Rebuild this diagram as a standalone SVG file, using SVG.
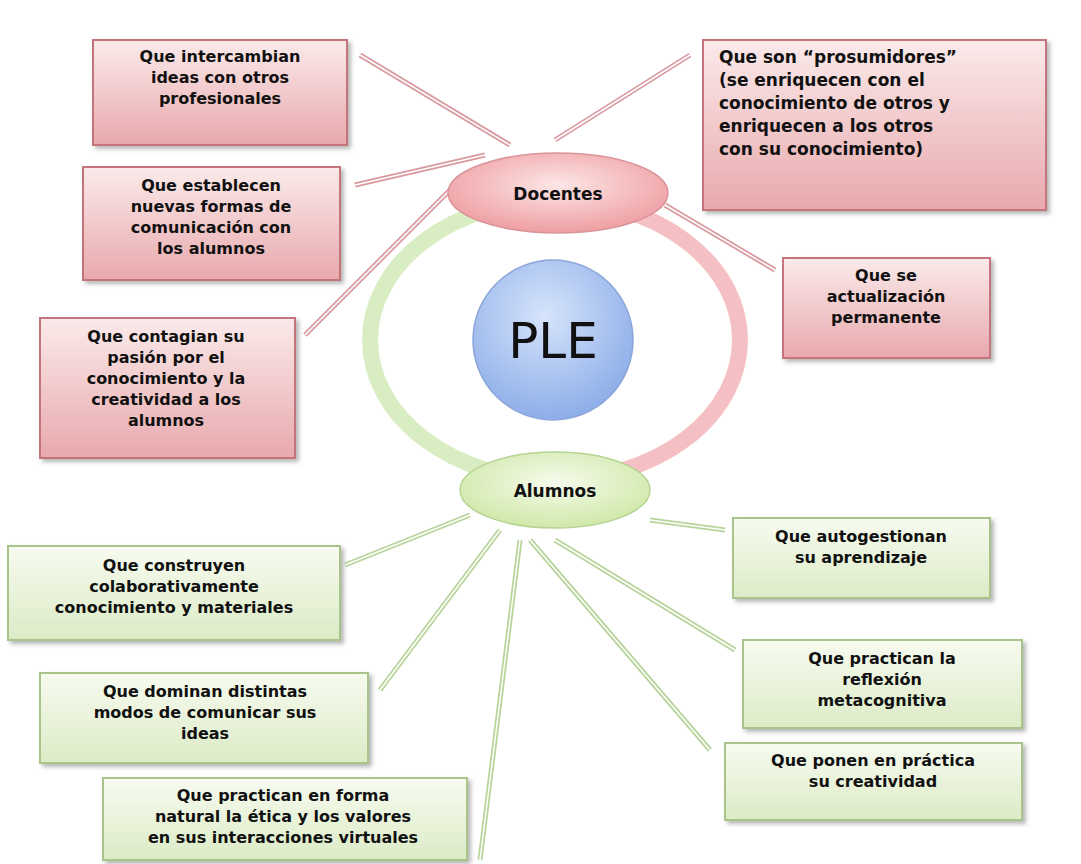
<svg xmlns="http://www.w3.org/2000/svg" width="1081" height="864" viewBox="0 0 1081 864">
<defs>
<linearGradient id="pk" x1="0" y1="0" x2="0" y2="1"><stop offset="0" stop-color="#fbeaea"/><stop offset="1" stop-color="#e8a9ad"/></linearGradient>
<linearGradient id="gr" x1="0" y1="0" x2="0" y2="1"><stop offset="0" stop-color="#f7fbf0"/><stop offset="1" stop-color="#dcebc6"/></linearGradient>
<radialGradient id="pe" cx="0.5" cy="0.4" r="0.6"><stop offset="0" stop-color="#fde6e6"/><stop offset="1" stop-color="#ee9ea2"/></radialGradient>
<radialGradient id="ge" cx="0.5" cy="0.4" r="0.6"><stop offset="0" stop-color="#f6fbec"/><stop offset="1" stop-color="#cfe8a8"/></radialGradient>
<radialGradient id="be" cx="0.45" cy="0.35" r="0.65"><stop offset="0" stop-color="#d6e4fb"/><stop offset="1" stop-color="#8eaee8"/></radialGradient>
<filter id="sh"><feDropShadow dx="3" dy="3" stdDeviation="2" flood-color="#888" flood-opacity="0.6"/></filter>
</defs>
<style>
.p{fill:url(#pk);stroke:#c4747c;stroke-width:2;filter:url(#sh)}
.g{fill:url(#gr);stroke:#a8c48a;stroke-width:2;filter:url(#sh)}
.t{font-family:"DejaVu Sans",sans-serif;font-weight:bold;font-size:16px;fill:#111;text-anchor:middle}
.tl{font-family:"DejaVu Sans",sans-serif;font-weight:bold;font-size:17px;fill:#111}
.cp{stroke:#d99aa0;stroke-width:5;fill:none}
.cpi{stroke:#fff;stroke-width:1.5;fill:none}
.cg{stroke:#b8d49a;stroke-width:5;fill:none}
.cgi{stroke:#fff;stroke-width:1.5;fill:none}
</style>
<rect width="1081" height="864" fill="#fff"/>
<g id="ring">
<path d="M555 200 A185 140 0 0 0 555 480" stroke="#d9edc2" stroke-width="16" fill="none"/>
<path d="M555 200 A185 140 0 0 1 555 480" stroke="#f5c0c4" stroke-width="16" fill="none"/>
</g>
<g id="connectors">
<path class="cp" d="M360 55 L510 145 M690 55 L555 140 M355 185 L485 155 M305 335 L450 190 M665 205 L775 270"/>
<path class="cpi" d="M360 55 L510 145 M690 55 L555 140 M355 185 L485 155 M305 335 L450 190 M665 205 L775 270"/>
<path class="cg" d="M470 515 L345 565 M500 530 L380 690 M520 540 L480 860 M530 540 L710 750 M555 540 L735 650 M650 520 L725 530"/>
<path class="cgi" d="M470 515 L345 565 M500 530 L380 690 M520 540 L480 860 M530 540 L710 750 M555 540 L735 650 M650 520 L725 530"/>
</g>
<g id="ple"><circle cx="553" cy="340" r="80" fill="url(#be)" stroke="#8aa6d8" stroke-width="1.5"/><text x="553" y="358" font-family="DejaVu Sans,sans-serif" font-size="50" text-anchor="middle" fill="#111">PLE</text></g>
<g id="docentes"><ellipse cx="558" cy="193" rx="110" ry="40" fill="url(#pe)" stroke="#d9959a" stroke-width="1.5"/><text class="tl" x="558" y="200" text-anchor="middle">Docentes</text></g>
<g id="alumnos"><ellipse cx="555" cy="490" rx="95" ry="38" fill="url(#ge)" stroke="#b5d392" stroke-width="1.5"/><text class="tl" x="555" y="497" text-anchor="middle">Alumnos</text></g>
<g id="b1"><rect class="p" x="93" y="40" width="254" height="105"/><text class="t" x="220" y="62">Que intercambian<tspan x="220" dy="21">ideas con otros</tspan><tspan x="220" dy="21">profesionales</tspan></text></g>
<g id="b2"><rect class="p" x="83" y="167" width="257" height="113"/><text class="t" x="211" y="191">Que establecen<tspan x="211" dy="21">nuevas formas de</tspan><tspan x="211" dy="21">comunicación con</tspan><tspan x="211" dy="21">los alumnos</tspan></text></g>
<g id="b3"><rect class="p" x="40" y="318" width="255" height="140"/><text class="t" x="166" y="342" text-anchor="middle">Que contagian su<tspan x="166" dy="21">pasión por el</tspan><tspan x="166" dy="21">conocimiento y la</tspan><tspan x="166" dy="21">creatividad a los</tspan><tspan x="166" dy="21">alumnos</tspan></text></g>
<g id="b4"><rect class="p" x="703" y="40" width="343" height="170"/><text class="tl" x="719" y="63">Que son “prosumidores”<tspan x="719" dy="23">(se enriquecen con el</tspan><tspan x="719" dy="23">conocimiento de otros y</tspan><tspan x="719" dy="23">enriquecen a los otros</tspan><tspan x="719" dy="23">con su conocimiento)</tspan></text></g>
<g id="b5"><rect class="p" x="783" y="258" width="207" height="100"/><text class="t" x="886" y="281">Que se<tspan x="886" dy="21">actualización</tspan><tspan x="886" dy="21">permanente</tspan></text></g>
<g id="b6"><rect class="g" x="8" y="546" width="332" height="94"/><text class="t" x="174" y="571">Que construyen<tspan x="174" dy="21">colaborativamente</tspan><tspan x="174" dy="21">conocimiento y materiales</tspan></text></g>
<g id="b7"><rect class="g" x="40" y="673" width="328" height="90"/><text class="t" x="205" y="697">Que dominan distintas<tspan x="205" dy="21">modos de comunicar sus</tspan><tspan x="205" dy="21">ideas</tspan></text></g>
<g id="b8"><rect class="g" x="103" y="778" width="364" height="82"/><text class="t" x="283" y="801">Que practican en forma<tspan x="283" dy="21">natural la ética y los valores</tspan><tspan x="283" dy="21">en sus interacciones virtuales</tspan></text></g>
<g id="b9"><rect class="g" x="733" y="518" width="257" height="80"/><text class="t" x="861" y="542">Que autogestionan<tspan x="861" dy="21">su aprendizaje</tspan></text></g>
<g id="b10"><rect class="g" x="743" y="640" width="279" height="88"/><text class="t" x="882" y="664">Que practican la<tspan x="882" dy="21">reflexión</tspan><tspan x="882" dy="21">metacognitiva</tspan></text></g>
<g id="b11"><rect class="g" x="725" y="743" width="297" height="77"/><text class="t" x="873" y="766">Que ponen en práctica<tspan x="873" dy="21">su creatividad</tspan></text></g>
</svg>
